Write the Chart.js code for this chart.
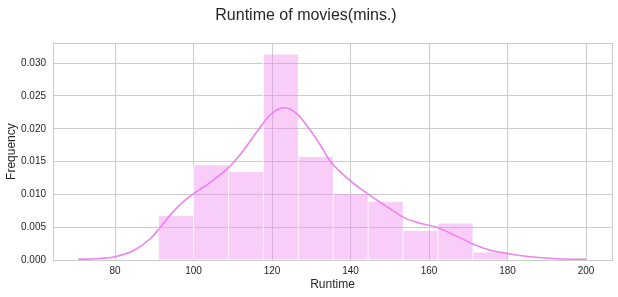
<!DOCTYPE html>
<html>
<head>
<meta charset="utf-8">
<script src="https://cdn.jsdelivr.net/npm/chart.js@4/dist/chart.umd.min.js"></script>
<style>
  html, body { margin: 0; padding: 0; background: #ffffff; }
  #wrap { width: 618px; height: 297px; }
</style>
</head>
<body>
<div id="wrap"><canvas id="c" width="618" height="297"></canvas></div>
<script>
// Histogram bin edges (minutes) and density heights
const binEdges = [91.0, 99.9, 108.8, 117.7, 126.6, 135.5, 144.4, 153.3, 162.2, 171.1, 180.0];
const binDensity = [0.00674, 0.01444, 0.01343, 0.03132, 0.01571, 0.01003, 0.00887, 0.00446, 0.00557, 0.00116];

// KDE curve points
const kdeX = [70.6, 75, 80, 84.6, 88.9, 91, 94, 97.4, 101.2, 104.2, 109.3, 112.7, 116.1, 119.5, 123.1, 126.3, 129.7, 132.2, 134.8, 139.9, 144.6, 149.3, 153.5, 157.7, 162, 167.1, 171.3, 175.6, 179.9, 185.8, 192.6, 200];
const kdeY = [0.0001, 0.0002, 0.0005, 0.0014, 0.0032, 0.0046, 0.0068, 0.0089, 0.0106, 0.0118, 0.0143, 0.0167, 0.0195, 0.0221, 0.0232, 0.0223, 0.0198, 0.0176, 0.0151, 0.0121, 0.0100, 0.0081, 0.0065, 0.0056, 0.0050, 0.0036, 0.0024, 0.0015, 0.0010, 0.0005, 0.0002, 0.0001];

// Tick labels
const xTicks = [80, 100, 120, 140, 160, 180, 200];
const yTicks = [0.000, 0.005, 0.010, 0.015, 0.020, 0.025, 0.030];

const FONT = '"Liberation Sans", Arial, sans-serif';
const TXT = '#262626';
const GRID = '#cccccc';

const barData = binDensity.map((h, i) => ({ x: (binEdges[i] + binEdges[i + 1]) / 2, y: h }));
const lineData = kdeX.map((x, i) => ({ x: x, y: kdeY[i] }));

const frame = {
  id: 'frame',
  afterDraw(chart) {
    const a = chart.chartArea, ctx = chart.ctx;
    ctx.save();
    ctx.strokeStyle = GRID;
    ctx.lineWidth = 1;
    ctx.strokeRect(Math.round(a.left) + 0.5, Math.round(a.top) + 0.5, Math.round(a.right - a.left), Math.round(a.bottom - a.top));
    ctx.restore();
  }
};

new Chart(document.getElementById('c'), {
  data: {
    datasets: [
      {
        type: 'line',
        data: lineData,
        borderColor: '#ee82ee',
        borderWidth: 1.6,
        pointRadius: 0,
        fill: false,
        cubicInterpolationMode: 'monotone',
        order: 0
      },
      {
        type: 'bar',
        data: barData,
        backgroundColor: 'rgba(238,130,238,0.4)',
        borderColor: '#ffffff',
        borderWidth: { left: 1, right: 0, top: 0, bottom: 0 },
        barPercentage: 1,
        categoryPercentage: 1,
        grouped: false,
        order: 1
      }
    ]
  },
  options: {
    responsive: false,
    animation: false,
    layout: { padding: { left: 0, right: 6, top: 0, bottom: 0 } },
    plugins: {
      legend: { display: false },
      tooltip: { enabled: false },
      title: {
        display: true,
        text: 'Runtime of movies(mins.)',
        color: TXT,
        font: { family: FONT, size: 16, weight: 'normal' },
        padding: { top: 6, bottom: 18 }
      }
    },
    scales: {
      x: {
        type: 'linear',
        offset: false,
        min: 64.2,
        max: 206.6,
        afterBuildTicks: s => { s.ticks = xTicks.map(v => ({ value: v })); },
        afterFit: s => { s.height = 37; },
        ticks: { color: TXT, font: { family: FONT, size: 10 }, padding: 5, maxRotation: 0 },
        grid: { color: GRID, drawTicks: false, offset: false },
        border: { color: GRID },
        title: { display: true, text: 'Runtime', color: TXT, font: { family: FONT, size: 12 }, padding: { top: 0, bottom: 5 } }
      },
      y: {
        type: 'linear',
        min: 0,
        max: 0.03304,
        afterBuildTicks: s => { s.ticks = yTicks.map(v => ({ value: v })); },
        afterFit: s => { s.width = 53; },
        ticks: { color: TXT, font: { family: FONT, size: 10 }, padding: 7, callback: v => v.toFixed(3) },
        grid: { color: GRID, drawTicks: false },
        border: { color: GRID },
        title: { display: true, text: 'Frequency', color: TXT, font: { family: FONT, size: 12 }, padding: { top: 4, bottom: 0 } }
      }
    }
  },
  plugins: [frame]
});
</script>
</body>
</html>
